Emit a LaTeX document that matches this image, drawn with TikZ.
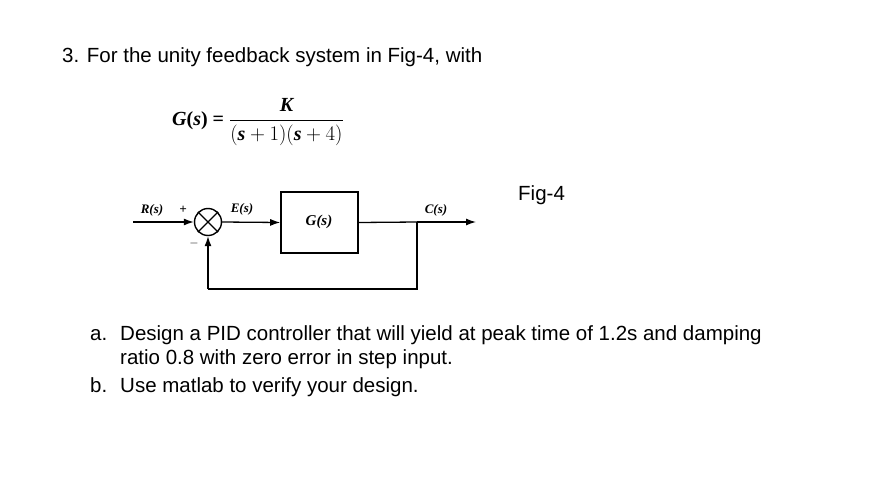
\documentclass[tikz,border=0pt]{standalone}
\usepackage{fontspec}
\setmainfont{Liberation Sans}
\newfontfamily\serif{Liberation Serif}
\usetikzlibrary{arrows.meta}
\begin{document}
\begin{tikzpicture}[x=1pt,y=-1pt,
  txt/.style={anchor=base west,inner sep=0pt,font=\fontsize{20.5}{24}\selectfont},
  lab/.style={inner sep=0pt,font=\serif\itshape\bfseries\fontsize{13}{14}\selectfont},
  sig/.style={line width=1.3pt,-{Latex[length=10pt,width=7pt]}},
  wire/.style={line width=1.3pt}]
\useasboundingbox (0,0) rectangle (887,501);
\node[txt] (t0) at (62,62) {3. For the unity feedback system in Fig-4, with};
\node[anchor=west,inner sep=0pt,font=\serif\bfseries\fontsize{20}{24}\selectfont] (eq) at (172,122) {\textit{G}(\textit{s}) = \raisebox{0pt}{$\displaystyle\frac{\textit{\textbf{K}}}{(\textit{\textbf{s}}+1)(\textit{\textbf{s}}+4)}$}};
\node[txt] (fig) at (518,200) {Fig-4};
% diagram
\coordinate (in) at (133,222);
\node[draw,circle,line width=1.4pt,minimum size=27pt,inner sep=0pt] (sum) at (208,222) {};
\draw[line width=1.4pt] (sum.45) -- (sum.225) (sum.135) -- (sum.315);
\node[draw,line width=1.6pt,minimum width=77pt,minimum height=61pt] (G) at (319.5,222.5) {};
\node[lab,font=\serif\itshape\bfseries\fontsize{15}{16}\selectfont] (Gl) at (319,222) {G(s)};
\coordinate (br) at (417,222);
\coordinate (out) at (476,222);
\coordinate (fb) at (417,289);
\coordinate (fb2) at (208,289);
\draw[sig] (in) -- (sum.west);
\draw[sig] (sum.east) -- (G.west);
\draw[wire] (G.east) -- (br);
\draw[sig] (br) -- (out);
\draw[wire] (br) -- (fb) -- (fb2);
\draw[sig] (fb2) -- (sum.south);
\node[lab] (Rl) at (152,210) {R(s)};
\node[lab] (pl) at (183,210) {+};
\node[lab] (ml) at (194,243) {$-$};
\node[lab] (El) at (242,209) {E(s)};
\node[lab] (Cl) at (436,210) {C(s)};
% questions
\node[txt] (a) at (90,340) {a.};
\node[txt] (a1) at (120,340) {Design a PID controller that will yield at peak time of 1.2s and damping};
\node[txt] (a2) at (120,364) {ratio 0.8 with zero error in step input.};
\node[txt] (b) at (90,392) {b.};
\node[txt] (b1) at (120,392) {Use matlab to verify your design.};
\end{tikzpicture}
\end{document}
